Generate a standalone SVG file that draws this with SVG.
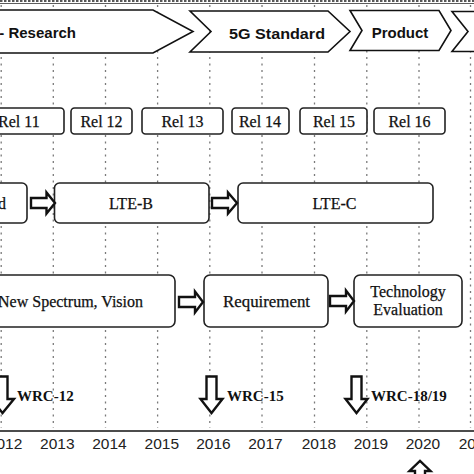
<svg xmlns="http://www.w3.org/2000/svg" width="474" height="474" viewBox="0 0 474 474">
<defs>
<style>
.grid{stroke:#7a7a7a;stroke-width:1.3;stroke-dasharray:2 4.5;fill:none}
.chev{fill:#fff;stroke:#111;stroke-width:1.6}
.ctext{font-family:"Liberation Sans",Arial,sans-serif;font-weight:bold;font-size:15px;fill:#111}
.box{fill:#fff;stroke:#222;stroke-width:1.6}
.serif{font-family:"Liberation Serif","Times New Roman",serif;font-size:16px;fill:#111;stroke:#111;stroke-width:0.25}
.wrc{font-family:"Liberation Serif","Times New Roman",serif;font-size:15px;font-weight:bold;fill:#111}
.year{font-family:"Liberation Sans",Arial,sans-serif;font-size:15.5px;fill:#222}
.barrow{fill:#fff;stroke:#111;stroke-width:2.4;stroke-linejoin:miter}
</style>
</defs>
<rect width="474" height="474" fill="#fff"/>
<g id="ruler">
<line x1="0" y1="1" x2="474" y2="1" stroke="#222" stroke-width="1.5" stroke-dasharray="2.5 1.5"/>
<line x1="0" y1="3.5" x2="474" y2="3.5" stroke="#333" stroke-width="0.8"/>
</g>
<g id="gridlines">
<line class="grid" x1="1.2" y1="5" x2="1.2" y2="428"/>
<line class="grid" x1="53.3" y1="5" x2="53.3" y2="428"/>
<line class="grid" x1="105.5" y1="5" x2="105.5" y2="428"/>
<line class="grid" x1="157.6" y1="5" x2="157.6" y2="428"/>
<line class="grid" x1="209.8" y1="5" x2="209.8" y2="428"/>
<line class="grid" x1="262" y1="5" x2="262" y2="428"/>
<line class="grid" x1="314.5" y1="5" x2="314.5" y2="428"/>
<line class="grid" x1="366.8" y1="5" x2="366.8" y2="428"/>
<line class="grid" x1="419" y1="5" x2="419" y2="428"/>
<line class="grid" x1="470.5" y1="5" x2="470.5" y2="428"/>
</g>
<g id="phase-research">
<path class="chev" d="M -5 10 L 153 10 L 193 31.5 L 153 53 L -5 53 Z"/>
<text class="ctext" x="76" y="38" text-anchor="end">- Research</text>
</g>
<g id="phase-5g-standard">
<path class="chev" d="M 190 11 L 328 11 L 350 31.5 L 328 52 L 190 52 L 211 31.5 Z"/>
<text class="ctext" x="229" y="38.5" textLength="96" lengthAdjust="spacingAndGlyphs">5G Standard</text>
</g>
<g id="phase-product">
<path class="chev" d="M 350 10.5 L 439 10.5 L 451 30.5 L 439 50.5 L 350 50.5 L 362 30.5 Z"/>
<text class="ctext" x="400" y="38" text-anchor="middle">Product</text>
</g>
<g id="phase-next">
<path class="chev" d="M 452 11.5 L 480 11.5 L 480 51.5 L 452 51.5 L 468 31.5 Z"/>
</g>
<g id="rel11"><rect class="box" x="-10" y="108" width="74" height="26" rx="3.5"/><text class="serif" x="-2" y="127">Rel 11</text></g>
<g id="rel12"><rect class="box" x="71" y="108" width="61" height="26" rx="3.5"/><text class="serif" x="101.5" y="127" text-anchor="middle">Rel 12</text></g>
<g id="rel13"><rect class="box" x="142" y="108" width="81" height="26" rx="3.5"/><text class="serif" x="182.5" y="127" text-anchor="middle">Rel 13</text></g>
<g id="rel14"><rect class="box" x="232" y="108" width="57" height="26" rx="3.5"/><text class="serif" x="260" y="127" text-anchor="middle">Rel 14</text></g>
<g id="rel15"><rect class="box" x="300" y="108" width="67" height="26" rx="3.5"/><text class="serif" x="334" y="127" text-anchor="middle">Rel 15</text></g>
<g id="rel16"><rect class="box" x="374" y="108" width="71" height="26" rx="3.5"/><text class="serif" x="409.5" y="127" text-anchor="middle">Rel 16</text></g>
<g id="lte-a"><rect class="box" x="-20" y="183" width="47" height="40" rx="5"/><text class="serif" x="6" y="209" text-anchor="end">d</text></g>
<g id="lte-b"><rect class="box" x="54.5" y="183" width="154.5" height="40" rx="5"/><text class="serif" x="131" y="209" text-anchor="middle">LTE-B</text></g>
<g id="lte-c"><rect class="box" x="238" y="183" width="195" height="40" rx="5"/><text class="serif" x="334.5" y="209" text-anchor="middle">LTE-C</text></g>
<g id="new-spectrum"><rect class="box" x="-20" y="275" width="195" height="52" rx="6"/><text class="serif" x="143" y="307" text-anchor="end">New Spectrum, Vision</text></g>
<g id="requirement"><rect class="box" x="204" y="275" width="124" height="52" rx="6"/><text class="serif" x="266.5" y="307" text-anchor="middle" textLength="87" lengthAdjust="spacingAndGlyphs">Requirement</text></g>
<g id="technology-evaluation"><rect class="box" x="354" y="275" width="108" height="52" rx="6"/><text class="serif" x="408" y="297" text-anchor="middle">Technology</text><text class="serif" x="408" y="315" text-anchor="middle">Evaluation</text></g>
<g id="connectors">
<path class="barrow" d="M 31 198 L 46.5 198 L 46.5 192.5 L 55 203 L 46.5 213.5 L 46.5 208 L 31 208 Z"/>
<path class="barrow" d="M 212 198 L 228 198 L 228 192.5 L 237 203 L 228 213.5 L 228 208 L 212 208 Z"/>
<path class="barrow" d="M 179 297 L 195 297 L 195 291.5 L 203 302 L 195 312.5 L 195 307 L 179 307 Z"/>
<path class="barrow" d="M 330 296 L 346 296 L 346 290.5 L 354 301 L 346 311.5 L 346 306 L 330 306 Z"/>
</g>
<g id="wrc-12">
<path class="barrow" d="M -3 376.5 L 7.5 376.5 L 7.5 399 L 14 399 L 2.5 413 L -9 399 L -3 399 Z"/>
<text class="wrc" x="17" y="401">WRC-12</text>
</g>
<g id="wrc-15">
<path class="barrow" d="M 206.5 376.5 L 216.5 376.5 L 216.5 399 L 222.5 399 L 211.5 413 L 200.5 399 L 206.5 399 Z"/>
<text class="wrc" x="227" y="401">WRC-15</text>
</g>
<g id="wrc-18-19">
<path class="barrow" d="M 351.5 376.5 L 361.5 376.5 L 361.5 399 L 367.5 399 L 356.5 413 L 345.5 399 L 351.5 399 Z"/>
<text class="wrc" x="371" y="401">WRC-18/19</text>
</g>
<g id="wrc-next">
<path class="barrow" d="M 415 480 L 415 471 L 409.5 471 L 420 461 L 430.5 471 L 425 471 L 425 480 Z"/>
</g>
<g id="timeline">
<line x1="0" y1="431" x2="474" y2="431" stroke="#111" stroke-width="1.6"/>
<text class="year" x="5" y="449" text-anchor="middle">2012</text>
<text class="year" x="57.3" y="449" text-anchor="middle">2013</text>
<text class="year" x="109.5" y="449" text-anchor="middle">2014</text>
<text class="year" x="161.8" y="449" text-anchor="middle">2015</text>
<text class="year" x="213.5" y="449" text-anchor="middle">2016</text>
<text class="year" x="265.5" y="449" text-anchor="middle">2017</text>
<text class="year" x="319" y="449" text-anchor="middle">2018</text>
<text class="year" x="371" y="449" text-anchor="middle">2019</text>
<text class="year" x="423" y="449" text-anchor="middle">2020</text>
<text class="year" x="476" y="449" text-anchor="middle">2021</text>
</g>
</svg>
